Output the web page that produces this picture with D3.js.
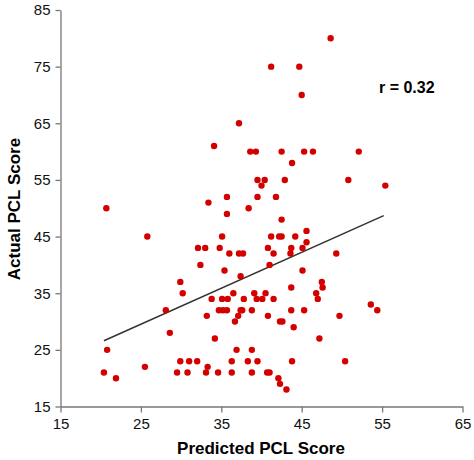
<!DOCTYPE html><html><head><meta charset="utf-8">
<script src="https://cdn.jsdelivr.net/npm/d3@7"></script>
<style>body{margin:0;background:#fff}</style></head><body><svg id="c" width="474" height="460"></svg>
<script>
const predicted=[48.6,41.2,44.7,45.0,37.2,34.1,38.6,39.3,42.5,45.3,46.4,52.1,43.8,39.5,40.4,40.0,42.9,50.8,55.4,33.4,35.7,39.5,41.8,20.7,35.7,38.4,42.5,25.8,35.1,41.2,42.2,42.5,44.2,45.6,45.6,32.1,33.0,34.8,36.0,37.2,37.7,40.8,41.5,43.6,43.7,45.1,49.3,32.4,35.4,41.0,37.4,45.1,29.9,30.2,47.5,47.6,43.7,46.8,47.0,33.8,35.1,35.8,36.5,37.8,39.1,40.5,39.4,40.1,41.5,28.1,34.7,35.2,35.7,37.4,37.6,38.8,43.7,45.3,53.6,54.4,33.2,37.1,40.8,49.7,36.7,42.3,42.6,44.0,28.6,34.2,47.2,20.8,36.9,38.8,29.9,31.0,32.0,33.3,36.3,38.3,39.5,43.8,50.4,25.5,20.4,21.9,29.5,30.8,33.1,34.6,36.3,38.8,40.7,41.0,42.1,42.3,43.1];
const actual=[80,75,75,70,65,61,60,60,60,60,60,60,58,55,55,54,55,55,54,51,52,52,52,50,49,50,48,45,45,45,45,45,45,46,44,43,43,43,42,42,42,43,42,42,43,43,42,40,39,40,38,39,37,35,37,36,36,35,34,34,34,34,35,34,35,35,34,34,34,32,32,32,32,32,32,32,32,32,33,32,31,31,31,31,30,30,30,29,28,27,27,25,25,25,23,23,23,22,23,23,23,23,23,22,21,20,21,21,21,21,21,21,21,21,20,19,18];
const fitX=[20.4,55.2], fitY=[26.6,48.7];
const xTicks=[15,25,35,45,55,65], yTicks=[15,25,35,45,55,65,75,85];
const svg=d3.select("#c");
const x=d3.scaleLinear().domain([15,65]).range([60.5,462.5]);
const y=d3.scaleLinear().domain([15,85]).range([406.5,10]);
const ax=svg.append("g").attr("transform","translate(0,406.5)").call(d3.axisBottom(x).tickValues(xTicks).tickSize(6).tickSizeOuter(0).tickPadding(6));
const ay=svg.append("g").attr("transform","translate(60.5,0)").call(d3.axisLeft(y).tickValues(yTicks).tickSize(5).tickSizeOuter(0).tickPadding(5));
[ax,ay].forEach(a=>{a.selectAll("path,line").attr("stroke","#777").attr("stroke-width",1.3);a.selectAll("text").attr("font-family","Liberation Sans, Arial").attr("font-size",15).attr("fill","#111");});
svg.append("line").attr("x1",x(fitX[0])).attr("y1",y(fitY[0])).attr("x2",x(fitX[1])).attr("y2",y(fitY[1])).attr("stroke","#333").attr("stroke-width",1.5);
svg.selectAll("circle.p").data(predicted).join("circle").attr("class","p").attr("cx",d=>x(d)).attr("cy",(d,i)=>y(actual[i])).attr("r",3.2).attr("fill","#d40000");
svg.append("text").attr("x",379).attr("y",93).attr("font-family","Liberation Sans, Arial").attr("font-weight","bold").attr("font-size",16).text("r = 0.32");
svg.append("text").attr("x",261).attr("y",454).attr("text-anchor","middle").attr("font-family","Liberation Sans, Arial").attr("font-weight","bold").attr("font-size",17).text("Predicted PCL Score");
svg.append("text").attr("transform","translate(20,209) rotate(-90)").attr("text-anchor","middle").attr("font-family","Liberation Sans, Arial").attr("font-weight","bold").attr("font-size",17).text("Actual PCL Score");
</script></body></html>
